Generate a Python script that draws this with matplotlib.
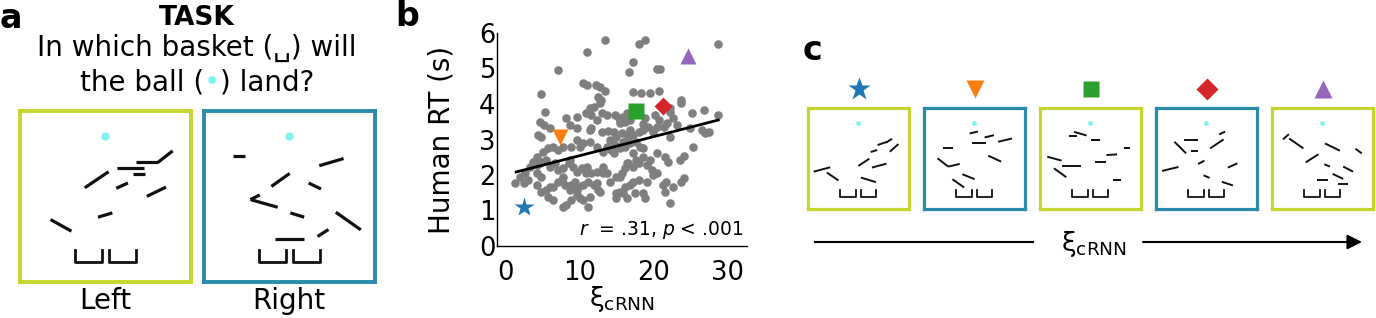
import numpy as np
import matplotlib.pyplot as plt
from matplotlib.offsetbox import TextArea, HPacker, AnnotationBbox

plt.rcParams['font.family'] = 'DejaVu Sans'
plt.rcParams['mathtext.default'] = 'regular'

W, H = 1376, 318

# ---- panel b: model uncertainty vs human RT ----
xi_crnn = [13.5, 18.0, 18.9, 28.8, 11.0, 7.1, 17.2, 16.7, 20.5, 20.9,
           4.8, 10.5, 11.0, 12.2, 12.8, 13.4, 12.5, 12.9, 12.8, 17.2,
           18.3, 19.5, 20.8, 23.8, 23.8, 22.2, 5.3, 11.4, 11.9, 10.9,
           11.6, 13.0, 13.7, 14.8, 15.4, 15.9, 16.4, 15.5, 16.2, 16.8,
           18.9, 18.6, 20.2, 20.7, 22.3, 22.7, 25.2, 26.9, 28.8, 4.6,
           5.2, 8.2, 9.6, 6.0, 4.8, 4.4, 8.7, 9.6, 11.6, 13.0,
           13.9, 14.6, 15.7, 15.9, 15.0, 16.8, 16.6, 17.3, 18.0, 18.6,
           19.3, 20.0, 20.5, 21.4, 21.8, 23.2, 25.0, 26.6, 27.0, 27.5,
           25.4, 24.2, 23.6, 22.0, 21.6, 20.5, 18.6, 17.7, 16.8, 16.2,
           15.5, 14.8, 14.3, 13.7, 13.2, 12.3, 11.4, 10.5, 9.6, 8.9,
           7.8, 7.1, 6.4, 5.7, 5.1, 4.2, 3.7, 4.2, 4.8, 5.5,
           6.0, 6.7, 7.1, 7.8, 8.5, 9.1, 9.6, 10.3, 11.0, 11.6,
           12.3, 13.2, 13.7, 14.1, 15.0, 15.7, 16.2, 16.6, 17.3, 18.0,
           18.6, 19.1, 19.8, 20.0, 19.1, 18.0, 17.3, 16.8, 16.2, 15.5,
           15.0, 15.9, 16.4, 17.5, 18.6, 18.9, 20.5, 21.3, 21.7, 21.6,
           22.7, 24.1, 23.8, 22.3, 2.4, 3.0, 1.2, 1.9, 2.6, 3.3,
           4.2, 4.8, 4.2, 4.8, 5.5, 6.0, 5.7, 6.4, 7.1, 7.6,
           8.0, 8.7, 8.9, 9.4, 9.8, 10.5, 11.2, 11.9, 12.8, 9.6,
           10.0, 10.5, 8.9, 7.8, 8.2, 11.4, 11.2, 12.5,
           16.8, 15.5, 14.1, 13.2, 15.5, 16.4, 17.3, 18.2, 19.5, 12.3,
           11.4, 10.0, 8.7, 7.8, 6.4, 4.6, 10.9, 12.3, 9.6, 14.6,
           20.0, 22.3, 12.7, 17.7, 15.0]
human_rt = [5.80, 5.69, 5.80, 5.68, 5.47, 4.96, 5.17, 4.91, 4.99, 4.99,
            4.27, 4.58, 4.54, 4.54, 4.49, 4.38, 4.21, 4.11, 4.02, 4.35,
            4.32, 4.32, 4.37, 4.11, 4.02, 3.88, 3.78, 3.88, 3.92, 3.76,
            3.69, 3.74, 3.69, 3.69, 3.60, 3.64, 3.74, 3.46, 3.50, 3.55,
            3.60, 3.44, 3.69, 3.55, 3.78, 3.60, 3.74, 3.83, 3.69, 3.50,
            3.41, 3.60, 3.64, 3.31, 3.08, 3.13, 3.41, 3.31, 3.31, 3.22,
            3.24, 3.22, 3.17, 2.94, 3.08, 3.22, 3.08, 3.13, 3.22, 3.27,
            3.36, 3.22, 3.36, 3.36, 3.46, 3.41, 3.31, 3.27, 3.19, 3.22,
            2.80, 2.54, 2.42, 2.38, 2.52, 2.61, 2.75, 2.94, 2.89, 2.80,
            2.75, 2.85, 2.70, 2.80, 2.66, 2.80, 2.94, 2.89, 2.99, 2.80,
            2.80, 2.70, 2.80, 2.75, 2.66, 2.52, 2.38, 2.28, 2.38, 2.42,
            2.23, 2.33, 2.14, 2.19, 2.33, 2.23, 2.09, 2.19, 2.23, 2.05,
            2.09, 2.05, 2.05, 1.81, 1.95, 2.05, 2.19, 2.33, 2.23, 2.33,
            2.52, 2.28, 2.14, 2.00, 1.81, 1.86, 1.81, 1.72, 1.67, 1.53,
            1.34, 1.48, 1.34, 1.48, 1.48, 1.34, 2.05, 1.72, 1.81, 1.53,
            1.67, 1.91, 1.81, 1.20, 1.77, 1.86, 1.77, 1.95, 2.05, 2.23,
            2.05, 1.95, 1.72, 1.53, 1.58, 1.67, 1.39, 1.30, 1.81, 1.86,
            1.72, 1.58, 1.72, 1.81, 1.67, 1.72, 1.81, 1.72, 1.53, 1.44,
            1.34, 1.30, 1.30, 1.11, 1.15, 1.39, 1.11, 1.58,
            3.27, 3.55, 2.99, 2.23, 1.95, 2.33, 2.61, 2.80, 2.42, 3.55,
            3.27, 2.80, 2.42, 1.95, 1.67, 2.33, 2.05, 1.77, 1.58, 2.61,
            3.27, 3.08, 4.11, 2.42, 1.48]
fit_intercept = 2.01
fit_slope = 0.0534
fit_range = [1.4, 28.8]
stat_text = r'$\mathit{r}$  = .31, $\mathit{p}$ < .001'

# highlighted example trials (panel b markers + panel c boards)
ex_xi = [2.5, 7.3, 17.7, 21.3, 24.7]
ex_rt = [1.11, 3.08, 3.80, 3.94, 5.35]
ex_marker = ['*', 'v', 's', 'D', '^']
ex_ms_b = [15, 11, 11, 9, 11]
ex_ms_c = [17, 13, 12, 11, 13]
ex_color = ['#1f77b4', '#ff7f0e', '#2ca02c', '#d62728', '#9467bd']
ex_answer = ['Left', 'Right', 'Left', 'Right', 'Left']

answer_color = {'Left': '#c6d532', 'Right': '#2a8bab'}
ball_color = '#80f2f2'

# planks per board, (u1, v1, u2, v2) in board units, v downward
task_left = [(.379, .449, .518, .355), (.569, .332, .728, .332), (.680, .301, .806, .301),
             (.806, .301, .893, .233), (.660, .369, .732, .369), (.563, .452, .631, .421),
             (.742, .499, .854, .445), (.456, .621, .540, .596), (.179, .635, .301, .703)]
task_right = [(.171, .262, .237, .262), (.674, .320, .816, .278), (.394, .441, .501, .365),
              (.612, .421, .684, .456), (.272, .518, .326, .491), (.272, .518, .431, .563),
              (.505, .596, .586, .621), (.771, .592, .917, .695), (.414, .748, .583, .748),
              (.664, .734, .728, .693)]
ex_boards = [
    [(.689, .367, .784, .334), (.770, .344, .833, .305), (.810, .433, .895, .357),
     (.620, .436, .685, .416), (.498, .574, .607, .502), (.633, .590, .777, .551),
     (.056, .630, .220, .587), (.187, .639, .302, .718), (.525, .689, .672, .734)],
    [(.452, .252, .534, .233), (.600, .292, .692, .269), (.734, .334, .872, .302),
     (.479, .344, .616, .344), (.190, .393, .289, .393), (.636, .472, .764, .531),
     (.134, .498, .239, .580), (.239, .580, .354, .554), (.380, .656, .502, .705),
     (.282, .705, .397, .787)],
    [(.072, .482, .214, .521), (.214, .570, .401, .570), (.138, .597, .260, .685),
     (.286, .282, .368, .282), (.336, .236, .461, .272), (.507, .318, .599, .318),
     (.829, .393, .888, .393), (.658, .466, .763, .459), (.549, .534, .658, .534),
     (.720, .711, .803, .711)],
    [(.626, .262, .685, .233), (.281, .318, .411, .318), (.536, .400, .669, .311),
     (.182, .334, .298, .449), (.344, .426, .411, .426), (.417, .554, .480, .521),
     (.060, .623, .222, .584), (.712, .590, .805, .548), (.470, .666, .530, .692),
     (.652, .731, .762, .767)],
    [(.108, .311, .167, .259), (.170, .302, .311, .400), (.525, .351, .672, .423),
     (.826, .403, .889, .449), (.334, .538, .459, .459), (.518, .557, .574, .580),
     (.705, .580, .803, .630), (.600, .652, .705, .702), (.443, .711, .557, .711),
     (.656, .748, .748, .748)],
]
basket_u = [(.32, .478), (.52, .678)]
basket_v = (.815, .884)
ball_uv = (.497, .145)


def px_axes(fig, x0, y0, w, h):
    # axes placed in pixel units, y from top
    return fig.add_axes([x0 / W, (H - y0 - h) / H, w / W, h / H])


def draw_board(ax, planks, color, frame_lw, plank_lw, basket_lw, ball_ms):
    ax.set_xlim(0, 1)
    ax.set_ylim(1, 0)
    ax.set_xticks([])
    ax.set_yticks([])
    for sp in ax.spines.values():
        sp.set_color(color)
        sp.set_linewidth(frame_lw)
    for u1, v1, u2, v2 in planks:
        ax.plot([u1, u2], [v1, v2], color='#111111', lw=plank_lw, solid_capstyle='butt')
    for ua, ub in basket_u:
        ax.plot([ua, ua, ub, ub], [basket_v[0], basket_v[1], basket_v[1], basket_v[0]],
                color='#111111', lw=basket_lw)
    ax.plot(ball_uv[0], ball_uv[1], 'o', color=ball_color, ms=ball_ms, mec='none')


fig = plt.figure(figsize=(W / 100, H / 100), dpi=100)

# overlay for labels / arrow, pixel coordinates
deco = fig.add_axes([0, 0, 1, 1])
deco.set_xlim(0, W)
deco.set_ylim(H, 0)
deco.axis('off')

# ---- panel a ----
deco.text(0, 18, 'a', fontsize=24, fontweight='bold', ha='left', va='center')
deco.text(197, 18, 'TASK', fontsize=19, fontweight='bold', ha='center', va='center')
deco.text(197, 48, 'In which basket (\u2423) will', fontsize=20, ha='center', va='center')
line3 = HPacker(children=[TextArea('the ball (', textprops=dict(size=20)),
                          TextArea('\u2022', textprops=dict(size=20, color=ball_color)),
                          TextArea(') land?', textprops=dict(size=20))],
                align='baseline', pad=0, sep=0)
deco.add_artist(AnnotationBbox(line3, (197, 82), xycoords='data', frameon=False,
                               box_alignment=(0.5, 0.5)))

ax_l = px_axes(fig, 20, 111, 171, 171)
draw_board(ax_l, task_left, answer_color['Left'], 2.8, 2.3, 2.0, 6)
ax_r = px_axes(fig, 204, 111, 171, 171)
draw_board(ax_r, task_right, answer_color['Right'], 2.8, 2.3, 2.0, 6)
deco.text(105, 301, 'Left', fontsize=20, ha='center', va='center')
deco.text(289, 301, 'Right', fontsize=20, ha='center', va='center')

# ---- panel b ----
deco.text(395, 16, 'b', fontsize=24, fontweight='bold', ha='left', va='center')
ax = px_axes(fig, 497, 33, 250, 213)
ax.scatter(xi_crnn, human_rt, s=38, color='#7f7f7f', linewidths=0, zorder=2)
xs = np.array(fit_range)
ax.plot(xs, fit_intercept + fit_slope * xs, color='k', lw=2, zorder=3)
for x, y, m, ms, c in zip(ex_xi, ex_rt, ex_marker, ex_ms_b, ex_color):
    ax.plot(x, y, marker=m, ms=ms, color=c, mec='none', ls='none', zorder=4)
ax.set_xlim(-1.2, 32.7)
ax.set_ylim(0, 6)
ax.set_xticks([0, 10, 20, 30])
ax.set_yticks(range(7))
ax.tick_params(axis='both', length=0, labelsize=18.5)
ax.tick_params(axis='x', pad=10)
ax.tick_params(axis='y', pad=1)
for side in ['top', 'right']:
    ax.spines[side].set_visible(False)
for side in ['left', 'bottom']:
    ax.spines[side].set_linewidth(1.0)
ax.set_ylabel('Human RT (s)', fontsize=20)
ax.yaxis.set_label_coords(-0.165, 0.5)
ax.set_xlabel(r'$\xi_{cRNN}$', fontsize=19)
ax.xaxis.set_label_coords(0.5, -0.18)
ax.text(0.985, 0.075, stat_text, transform=ax.transAxes, ha='right', va='center',
        fontsize=13.5)

# ---- panel c ----
deco.text(803, 51, 'c', fontsize=24, fontweight='bold', ha='left', va='center')
box_x0 = [808, 924, 1040, 1156, 1272]
for i, x0 in enumerate(box_x0):
    bax = px_axes(fig, x0, 108, 101, 101)
    draw_board(bax, ex_boards[i], answer_color[ex_answer[i]], 2.3, 1.4, 1.3, 3.5)
    deco.plot(x0 + 50.5, 89, marker=ex_marker[i], ms=ex_ms_c[i], color=ex_color[i],
              mec='none', ls='none')

deco.plot([815, 1033], [242, 242], color='k', lw=1.5)
deco.annotate('', xy=(1362, 242), xytext=(1143, 242),
              arrowprops=dict(arrowstyle='-|>', color='k', lw=1.5, mutation_scale=22,
                              shrinkA=0, shrinkB=0))
deco.text(1094, 244, r'$\xi_{cRNN}$', fontsize=19, ha='center', va='center')

fig.savefig('out.png', dpi=100)
